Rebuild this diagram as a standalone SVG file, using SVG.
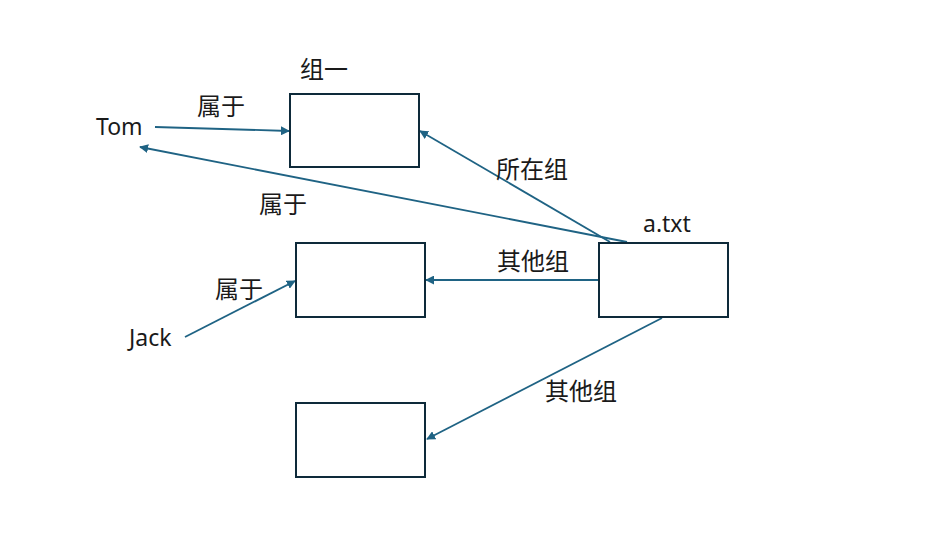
<svg xmlns="http://www.w3.org/2000/svg" width="949" height="548" viewBox="0 0 949 548">
<style>
.box{fill:#ffffff;stroke:#0e2a3a;stroke-width:2}
.cn{stroke:#1f6384;stroke-width:1.8;fill:none;marker-end:url(#ah)}
.t{font-family:"Noto Sans","Noto Sans CJK SC",sans-serif;font-size:23px;fill:#1a1a1a}
.c{font-family:"Noto Sans CJK SC",sans-serif;font-size:24px;fill:#1a1a1a}
</style>
<defs>
<marker id="ah" viewBox="0 0 10 10" refX="9" refY="5" markerWidth="5" markerHeight="5" orient="auto" markerUnits="strokeWidth">
<path d="M0,0 L10,5 L0,10 z" fill="#1f6384"/>
</marker>
</defs>
<rect width="949" height="548" fill="#ffffff"/>
<g id="connectors">
<line class="cn" x1="155" y1="127" x2="289" y2="131"/>
<line class="cn" x1="627" y1="242" x2="140" y2="147"/>
<line class="cn" x1="610" y1="242" x2="420" y2="131"/>
<line class="cn" x1="598" y1="280" x2="426" y2="280"/>
<line class="cn" x1="185" y1="337" x2="295" y2="281"/>
<line class="cn" x1="662" y1="318" x2="427" y2="439"/>
</g>
<g id="group1"><rect class="box" x="290" y="94" width="129" height="73"/><text class="c" x="300" y="78">组一</text></g>
<g id="group2"><rect class="box" x="296" y="243" width="129" height="74"/></g>
<g id="group3"><rect class="box" x="296" y="403" width="129" height="74"/></g>
<g id="file"><rect class="box" x="599" y="243" width="129" height="74"/><text class="t" x="643" y="232">a.txt</text></g>
<g id="tom"><text class="t" x="96" y="135">Tom</text></g>
<g id="jack"><text class="t" x="129" y="346">Jack</text></g>
<g id="labels">
<text class="c" x="197" y="115">属于</text>
<text class="c" x="259" y="213">属于</text>
<text class="c" x="496" y="178">所在组</text>
<text class="c" x="497" y="270">其他组</text>
<text class="c" x="215" y="298">属于</text>
<text class="c" x="545" y="400">其他组</text>
</g>
</svg>
